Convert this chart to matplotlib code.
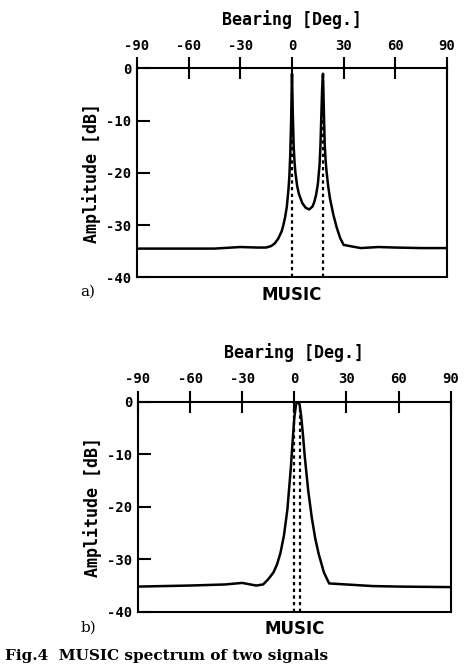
import matplotlib.pyplot as plt

# panel a): two sources at 0 and 18 deg
bearing_a = [-90, -60, -45, -30, -20, -15, -12, -10, -8, -6, -5, -4, -3, -2, -1.5, -1, -0.5, 0, 0.5, 1, 1.5, 2, 3,
             4, 6, 8, 10, 12, 13, 14, 15, 16, 16.5, 17, 17.5, 18, 18.5, 19, 19.5, 20, 21, 22, 24, 26, 28, 30,
             40, 50, 60, 75, 90]
amp_a = [-34.5, -34.5, -34.5, -34.2, -34.3, -34.3, -34.0, -33.5, -32.6, -31.2, -30.0, -28.5, -26.5, -23.0, -20.5,
         -16.5, -10.0, -1.0, -9.0, -15.0, -18.0, -20.0, -22.5, -24.0, -25.8, -26.7, -27.0, -26.4, -25.5, -24.2,
         -22.2, -18.5, -15.0, -9.5, -4.0, -1.0, -8.0, -14.5, -17.5, -19.5, -22.5, -24.8, -28.0, -30.5, -32.5,
         -33.8, -34.4, -34.2, -34.3, -34.4, -34.4]
sources_a = [0, 18]

# panel b): two closely spaced sources at 0 and 3 deg
bearing_b = [-90, -60, -40, -30, -22, -18, -15, -12, -10, -8, -6, -4, -2, -1, 0, 1, 2, 3, 4, 5, 6, 8, 10, 12, 14,
             17, 20, 25, 30, 45, 60, 90]
amp_b = [-35.2, -35.0, -34.8, -34.5, -35.0, -34.8, -33.8, -32.5, -31.0, -28.8, -25.5, -20.5, -12.5, -7.5, -3.0,
         -0.5, 0.0, -0.5, -3.0, -6.5, -10.5, -17.0, -22.0, -26.0, -29.0, -32.5, -34.6, -34.7, -34.8, -35.1,
         -35.2, -35.3]
sources_b = [0, 3]

xticks = [-90, -60, -30, 0, 30, 60, 90]
yticks = [0, -10, -20, -30, -40]

font = {"family": "DejaVu Sans Mono", "weight": "bold"}

fig = plt.figure(figsize=(4.74, 6.65), dpi=100)
panels = [
    ([0.289, 0.583, 0.654, 0.314], bearing_a, amp_a, sources_a, "a)", 0.561),
    ([0.291, 0.080, 0.660, 0.316], bearing_b, amp_b, sources_b, "b)", 0.056),
]

for rect, x, y, src, tag, tag_y in panels:
    ax = fig.add_axes(rect)
    ax.plot(x, y, color="black", linewidth=1.8)
    for s in src:
        ax.plot([s, s], [-40, -1], color="black", linestyle=(0, (1.5, 1.5)), linewidth=1.6)
    ax.set_xlim(-90, 90)
    ax.set_ylim(-40, 0)
    ax.xaxis.tick_top()
    ax.xaxis.set_label_position("top")
    ax.set_xticks(xticks)
    ax.set_xticklabels([str(t) for t in xticks], **font, fontsize=10)
    ax.set_yticks(yticks)
    ax.set_yticklabels([str(t) for t in yticks], **font, fontsize=10)
    ax.tick_params(axis="x", direction="inout", length=16, width=1.5, pad=3)
    ax.tick_params(axis="y", direction="in", length=9, width=1.5, pad=4)
    for sp in ax.spines.values():
        sp.set_linewidth(1.5)
    ax.set_xlabel("Bearing [Deg.]", **font, fontsize=12, labelpad=10)
    ax.set_ylabel("Amplitude [dB]", **font, fontsize=12, labelpad=4)
    ax.text(0.5, -0.04, "MUSIC", transform=ax.transAxes, ha="center", va="top",
            fontsize=12, fontweight="bold", family="DejaVu Sans")
    fig.text(0.17, tag_y, tag, fontsize=11, family="DejaVu Serif", ha="left", va="center")

fig.text(0.01, 0.003, "Fig.4  MUSIC spectrum of two signals", fontsize=11, fontweight="bold",
         family="DejaVu Serif", ha="left", va="bottom")

fig.savefig("out.png", dpi=100)
